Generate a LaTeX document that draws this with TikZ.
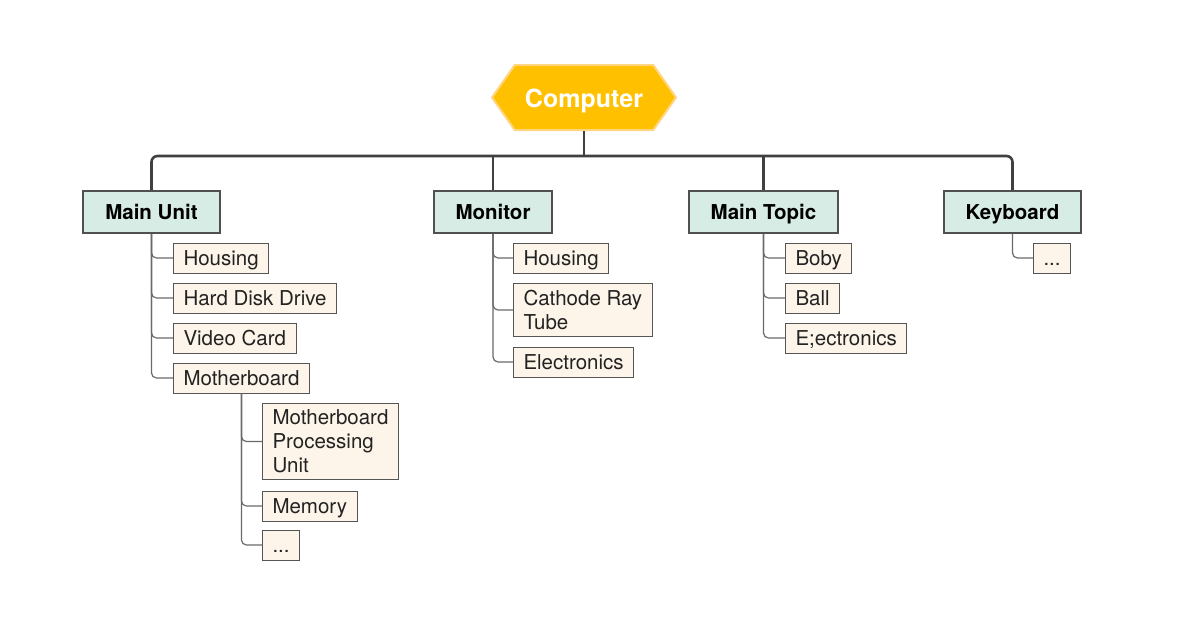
\documentclass[tikz,border=0pt]{standalone}
\usepackage{fontspec}
\setmainfont{TeX Gyre Heros}
\usetikzlibrary{shapes.symbols}
\definecolor{busgray}{HTML}{404040}
\definecolor{boxborder}{HTML}{505050}
\definecolor{mainfill}{HTML}{D6ECE4}
\definecolor{leafborder}{HTML}{555555}
\definecolor{leaffill}{HTML}{FEF5EA}
\definecolor{twiggray}{HTML}{6A6A6A}
\definecolor{compfill}{HTML}{FFC000}
\definecolor{compborder}{HTML}{FFD580}
\definecolor{textgray}{HTML}{222222}
\begin{document}
\begin{tikzpicture}[x=1pt,y=-1pt,
 mainbox/.style={draw=boxborder, fill=mainfill, line width=2pt, font=\fontsize{20.5}{24}\selectfont\bfseries, minimum height=42pt, inner xsep=22pt, text=black, text height=16pt, text depth=2pt},
 leaf/.style={draw=leafborder, fill=leaffill, line width=1pt, font=\fontsize{20.5}{24}\selectfont, minimum height=30pt, inner xsep=10pt, inner ysep=5pt, anchor=west, align=left, text=textgray},
 one/.style={text height=16pt, text depth=2pt},
 multi/.style={inner ysep=6.5pt},
 bus/.style={draw=busgray, line width=2.6pt, rounded corners=6pt},
 twig/.style={draw=twiggray, line width=1.2pt, rounded corners=5pt}]
\useasboundingbox (0,0) rectangle (1200,630);
\fill[white] (0,0) rectangle (1200,630);

\node[signal, signal to=west and east, signal pointer angle=110, fill=compfill, draw=compborder, line width=2pt, minimum width=184pt, minimum height=65pt, inner sep=0pt, text=white, font=\fontsize{25}{30}\selectfont\bfseries, text height=21pt, text depth=2pt] (comp) at (584,97.5) {Computer};

\node[mainbox] (mu) at (151.5,212) {Main Unit};
\node[mainbox] (mo) at (493,212) {Monitor};
\node[mainbox] (mt) at (763.5,212) {Main Topic};
\node[mainbox] (kb) at (1012.5,212) {Keyboard};

\coordinate (busy) at (0,156);
\draw[bus] (comp.south) -- (comp.south |- busy);
\draw[bus] (mu.north) |- (kb.north |- busy) -- (kb.north);
\draw[bus] (mo.north) -- (mo.north |- busy);
\draw[bus] (mt.north) -- (mt.north |- busy);

% Main Unit children
\node[leaf, one] (mu1) at (173,258) {Housing};
\node[leaf, one] (mu2) at (173,298) {Hard Disk Drive};
\node[leaf, one] (mu3) at (173,338) {Video Card};
\node[leaf, one] (mu4) at (173,378) {Motherboard};
\node[leaf, multi] (mb1) at (262,441.5) {Motherboard\\Processing\\Unit};
\node[leaf, one] (mb2) at (262,506) {Memory};
\node[leaf, one] (mb3) at (262,545) {...};

% Monitor children
\node[leaf, one] (mo1) at (513,258) {Housing};
\node[leaf, multi] (mo2) at (513,310) {Cathode Ray\\Tube};
\node[leaf, one] (mo3) at (513,362) {Electronics};

% Main Topic children
\node[leaf, one] (mt1) at (785,258) {Boby};
\node[leaf, one] (mt2) at (785,298) {Ball};
\node[leaf, one] (mt3) at (785,338) {E;ectronics};

% Keyboard child
\node[leaf, one] (kb1) at (1033,258) {...};

\foreach \c in {mu1,mu2,mu3,mu4} \draw[twig] (mu.south) |- (\c.west);
\foreach \c in {mb1,mb2,mb3} \draw[twig] (mu4.south) |- (\c.west);
\foreach \c in {mo1,mo2,mo3} \draw[twig] (mo.south) |- (\c.west);
\foreach \c in {mt1,mt2,mt3} \draw[twig] (mt.south) |- (\c.west);
\draw[twig] (kb.south) |- (kb1.west);
\end{tikzpicture}
\end{document}
